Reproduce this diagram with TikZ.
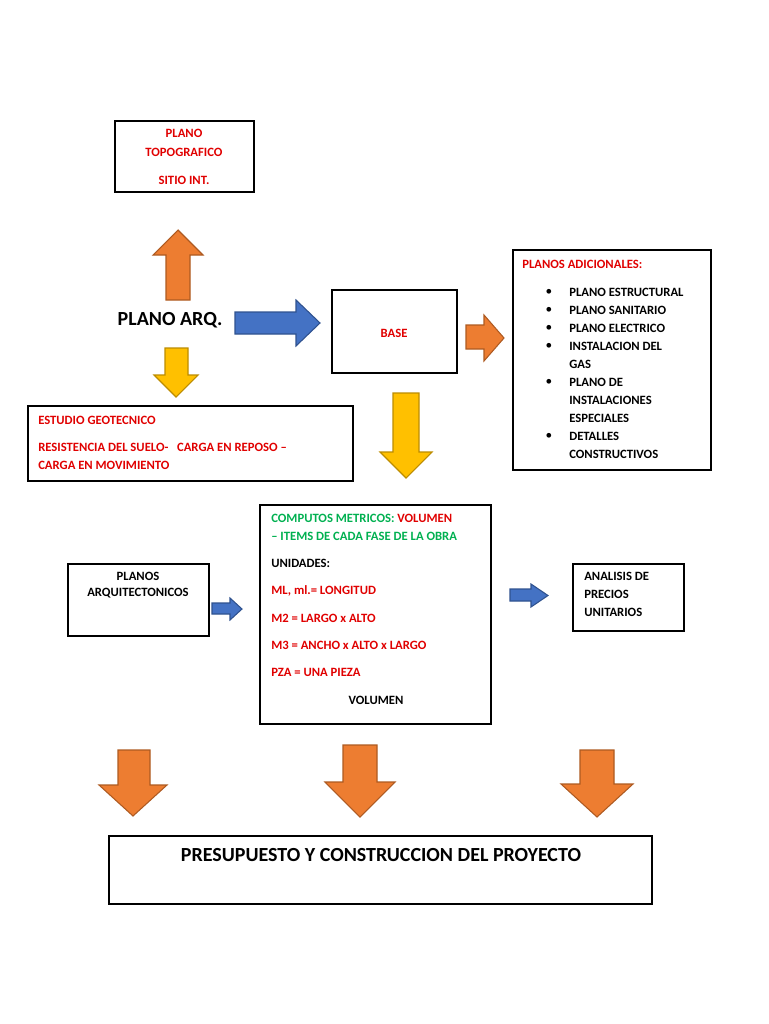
\documentclass[tikz,border=0pt]{standalone}
\usepackage{fontspec}
\setmainfont{Carlito}
\begin{document}
\definecolor{org}{HTML}{ED7D31}\definecolor{orgd}{HTML}{AE5A21}
\definecolor{blu}{HTML}{4472C4}\definecolor{blud}{HTML}{2F528F}
\definecolor{yel}{HTML}{FFC000}\definecolor{yeld}{HTML}{BC8C00}
\definecolor{rd}{HTML}{E00000}\definecolor{gr}{HTML}{00B050}
\begin{tikzpicture}[x=0.75pt,y=-0.75pt,
  box/.style={draw,line width=0.8pt,inner sep=0pt},
  t/.style={font=\bfseries\fontsize{9.5}{13}\selectfont,inner sep=0pt},
  ao/.style={fill=org,draw=orgd,line width=0.8pt},
  ab/.style={fill=blu,draw=blud,line width=0.8pt},
  ay/.style={fill=yel,draw=yeld,line width=0.8pt}]
\useasboundingbox (0,0) rectangle (768,1024);
% arrows: down(x1,x2 head; s1,s2 shaft; ytop, yhead, ybot)
\newcommand\darrow[8]{\draw[#8] (#3,#5)--(#4,#5)--(#4,#6)--(#2,#6)--({(#1+#2)/2},#7)--(#1,#6)--(#3,#6)--cycle;}
\newcommand\rarrow[8]{\draw[#8] (#5,#3)--(#5,#4)--(#6,#4)--(#6,#2)--(#7,{(#1+#2)/2})--(#6,#1)--(#6,#3)--cycle;}
\draw[ao] (166,300)--(190,300)--(190,255)--(203,255)--(178,230)--(153,255)--(166,255)--cycle;
\rarrow{300}{346}{312}{334}{235}{296}{320}{ab}
\darrow{154}{198}{165}{188}{348}{375}{397}{ay}
\rarrow{315}{361}{325}{349}{466}{484}{504}{ao}
\darrow{380}{432}{393}{419}{393}{452}{478}{ay}
\rarrow{598}{620}{603}{614}{212}{230}{242}{ab}
\rarrow{584}{607}{589}{601}{510}{531}{548}{ab}
\darrow{99}{167}{118}{150}{750}{785}{816}{ao}
\darrow{325}{395}{343}{377}{745}{782}{817}{ao}
\darrow{561}{633}{580}{614}{750}{784}{817}{ao}
% boxes
\node[box,minimum width=139*0.75pt,minimum height=71*0.75pt] (topo) at (184.5,156.5) {};
\node[t,rd,align=center] at (184,133) {PLANO};
\node[t,rd,align=center] at (184,152) {TOPOGRAFICO};
\node[t,rd,align=center] at (184,180) {SITIO INT.};
\node[font=\bfseries\fontsize{15}{18}\selectfont,inner sep=0pt] (arq) at (170,320) {PLANO ARQ.};
\node[box,minimum width=125*0.75pt,minimum height=83*0.75pt] (base) at (394.5,331.5) {};
\node[t,rd] at (394,333) {BASE};
\node[box,minimum width=198*0.75pt,minimum height=220*0.75pt] (adic) at (612,360) {};
\node[t,rd,anchor=west] at (522,264) {PLANOS ADICIONALES:};
\foreach \y/\s in {292/PLANO ESTRUCTURAL,310/PLANO SANITARIO,328/PLANO ELECTRICO,346/INSTALACION DEL,382/PLANO DE,436/DETALLES}
  \node[t,anchor=west] at (569,\y) {\s};
\foreach \y in {292,310,328,346,382,436} \node[inner sep=0pt] at (549,\y) {\textbullet};
\foreach \y/\s in {364/GAS,400/INSTALACIONES,418/ESPECIALES,454/CONSTRUCTIVOS}
  \node[t,anchor=west] at (569,\y) {\s};
\node[box,minimum width=325*0.75pt,minimum height=75*0.75pt] (geo) at (190.5,443.5) {};
\node[t,rd,anchor=west] at (38,420) {ESTUDIO GEOTECNICO};
\node[t,rd,anchor=west] at (38,447) {RESISTENCIA DEL SUELO-\ \ \ CARGA EN REPOSO –};
\node[t,rd,anchor=west] at (38,465) {CARGA EN MOVIMIENTO};
\node[box,minimum width=231*0.75pt,minimum height=219*0.75pt] (comp) at (375.5,614.5) {};
\node[t,anchor=west] at (271,518) {\textcolor{gr}{COMPUTOS METRICOS:} \textcolor{rd}{VOLUMEN}};
\node[t,gr,anchor=west] at (271,536) {– ITEMS DE CADA FASE DE LA OBRA};
\node[t,anchor=west] at (271,563) {UNIDADES:};
\node[t,rd,anchor=west] at (271,591) {ML, ml.= LONGITUD};
\node[t,rd,anchor=west] at (271,618) {M2 = LARGO x ALTO};
\node[t,rd,anchor=west] at (271,645) {M3 = ANCHO x ALTO x LARGO};
\node[t,rd,anchor=west] at (271,672) {PZA = UNA PIEZA};
\node[t] at (376,700) {VOLUMEN};
\node[box,minimum width=141*0.75pt,minimum height=72*0.75pt] (parq) at (138.5,600) {};
\node[t] at (138,576) {PLANOS};
\node[t] at (138,593) {ARQUITECTONICOS};
\node[box,minimum width=111*0.75pt,minimum height=67*0.75pt] (apu) at (628.5,597.5) {};
\node[t,anchor=west] at (584,576) {ANALISIS DE};
\node[t,anchor=west] at (584,594) {PRECIOS};
\node[t,anchor=west] at (584,612) {UNITARIOS};
\node[box,minimum width=543*0.75pt,minimum height=68*0.75pt] (pres) at (380.5,870) {};
\node[font=\bfseries\fontsize{15}{18}\selectfont,inner sep=0pt] at (381,855) {PRESUPUESTO Y CONSTRUCCION DEL PROYECTO};
\end{tikzpicture}
\end{document}
